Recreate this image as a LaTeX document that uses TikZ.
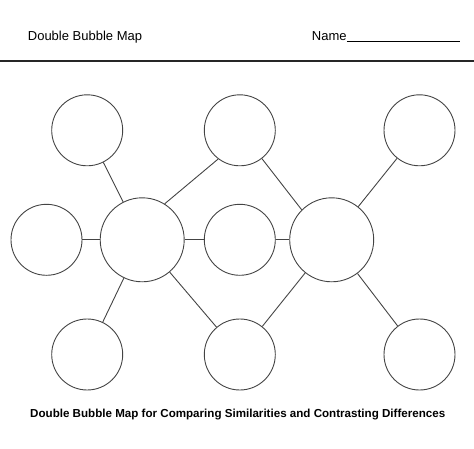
\documentclass[tikz,border=0pt]{standalone}
\usepackage{fontspec}
\setmainfont{Liberation Sans}
\begin{document}
\begin{tikzpicture}[x=1pt,y=-1pt,
  bub/.style={circle,draw=linegray,line width=0.9pt,inner sep=0pt,minimum size=71pt},
  big/.style={bub,minimum size=84pt},
  link/.style={draw=linegray,line width=0.9pt},
  lbl/.style={anchor=base west,inner sep=0pt,text=black}]
\definecolor{linegray}{HTML}{444444}
\useasboundingbox (0,0) rectangle (474,449);
% header
\node[lbl,font=\fontsize{13}{15}\selectfont] (title) at (27.7,40.7) {Double Bubble Map};
\node[lbl,font=\fontsize{13}{15}\selectfont] (name) at (311.7,40.7) {Name};
\coordinate (uend) at (460,41.7);
\draw[black,line width=1.1pt] (name.base east) ++(0,1) -- (uend);
\coordinate (rl) at (0,61);
\coordinate (rr) at (474,61);
\draw[black!85,line width=2.4pt] (rl) -- (rr);
% bubbles
\node[bub] (tl) at (87.2,130.3) {};
\node[bub] (tm) at (239.8,130.3) {};
\node[bub] (tr) at (419.5,130.3) {};
\node[bub] (ml) at (46.5,239.8) {};
\node[big] (bl) at (142.2,239.8) {};
\node[bub] (mm) at (239.8,239.8) {};
\node[big] (br) at (331.7,239.8) {};
\node[bub] (bbl) at (87.2,354.5) {};
\node[bub] (bbm) at (239.8,354.5) {};
\node[bub] (bbr) at (419.5,354.5) {};
% links
\draw[link] (tl) -- (bl);
\draw[link] (ml) -- (bl);
\draw[link] (bl) -- (mm);
\draw[link] (mm) -- (br);
\draw[link] (bl.58.6) -- (tm.233.2);
\draw[link] (tm.-52.3) -- (br.135.2);
\draw[link] (br) -- (tr);
\draw[link] (bl) -- (bbl);
\draw[link] (bl) -- (bbm);
\draw[link] (bbm) -- (br);
\draw[link] (br) -- (bbr);
% footer
\node[lbl,font=\fontsize{11.6}{14}\selectfont\bfseries] (foot) at (30,417) {Double Bubble Map for Comparing Similarities and Contrasting Differences};
\end{tikzpicture}
\end{document}
